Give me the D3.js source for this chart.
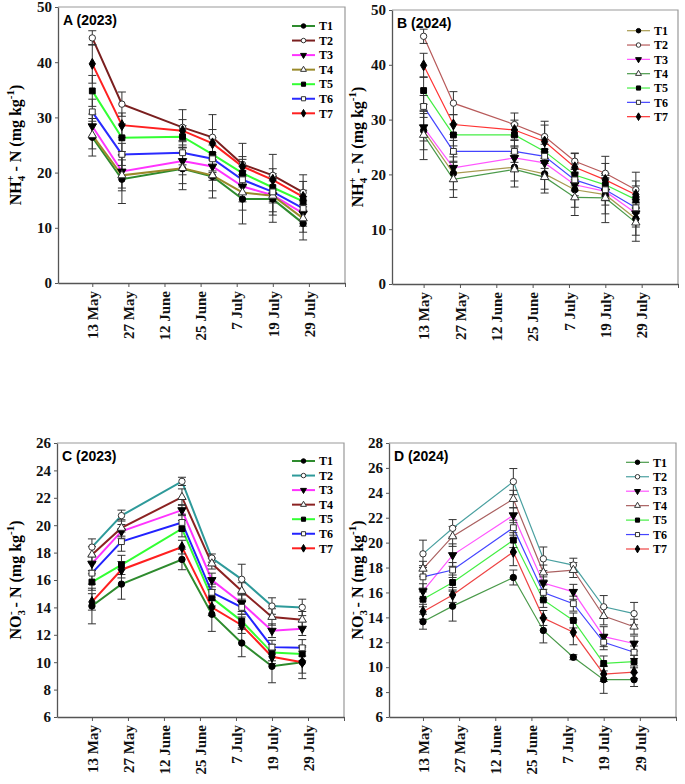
<!DOCTYPE html>
<html>
<head>
<meta charset="utf-8">
<script src="https://cdn.jsdelivr.net/npm/d3@7"></script>
<style>
  body { margin: 0; background: #fff; }
  svg { display: block; }
</style>
</head>
<body>
<div id="chart"></div>
<script>
// sampling dates (tick labels) and where the samples sit on the axis
const dateLabels = ['13 May', '27 May', '12 June', '25 June', '7 July', '19 July', '29 July'];
const sampleX = [0, 0.82, 2.5, 3.33, 4.16, 5.0, 5.84];
const treatments = ['T1', 'T2', 'T3', 'T4', 'T5', 'T6', 'T7'];

// NH4+-N 2023, one row per treatment
const nh4_2023 = [
  [26.4, 18.8, 20.7, 19.3, 15.2, 15.2, 10.8],
  [44.4, 32.4, 28.2, 26.4, 21.5, 19.5, 16.4],
  [28.4, 20.2, 22.1, 21.1, 17.5, 15.9, 12.6],
  [26.8, 19.5, 20.8, 19.5, 16.4, 15.8, 11.7],
  [34.8, 26.3, 26.5, 23.3, 19.9, 17.3, 14.8],
  [31.0, 23.3, 23.6, 22.5, 18.7, 16.5, 13.5],
  [39.7, 28.6, 27.6, 25.3, 21.1, 18.7, 15.6],
];
const nh4_2023_err = [
  [3.4, 4.4, 3.8, 3.9, 4.5, 4.2, 3.0],
  [1.3, 2.2, 3.2, 4.1, 3.8, 3.8, 3.2],
  [2.2, 3.0, 2.5, 2.5, 2.8, 3.0, 2.3],
  [2.5, 2.8, 2.8, 2.8, 3.2, 3.5, 2.5],
  [2.8, 2.5, 2.0, 3.0, 2.5, 2.5, 2.0],
  [2.3, 2.0, 2.2, 2.5, 2.5, 2.0, 2.2],
  [3.5, 2.2, 2.0, 2.5, 1.8, 2.0, 2.8],
];

// NH4+-N 2024
const nh4_2024 = [
  [28.0, 20.2, 21.3, 20.1, 17.2, 16.3, 11.9],
  [45.2, 33.0, 29.1, 26.9, 22.4, 20.2, 17.2],
  [28.6, 21.2, 23.0, 22.1, 18.1, 16.9, 12.9],
  [27.2, 19.1, 20.9, 19.5, 15.8, 15.7, 11.2],
  [35.3, 27.2, 27.2, 24.2, 19.9, 18.1, 15.4],
  [32.4, 24.2, 24.2, 23.3, 19.0, 17.2, 13.9],
  [39.9, 29.1, 28.1, 26.0, 21.3, 19.0, 16.3],
];
const nh4_2024_err = [
  [3.5, 3.0, 2.5, 2.8, 3.2, 3.5, 3.0],
  [1.3, 2.1, 2.1, 2.8, 1.5, 3.1, 3.2],
  [2.5, 2.5, 2.0, 2.5, 2.0, 2.5, 2.5],
  [4.5, 3.3, 3.2, 2.9, 3.3, 4.5, 3.4],
  [2.5, 2.0, 2.0, 2.2, 2.0, 2.0, 2.5],
  [2.0, 2.0, 2.0, 2.2, 2.0, 2.0, 2.0],
  [2.2, 1.8, 1.8, 3.0, 2.5, 3.0, 2.5],
];

// NO3--N 2023
const no3_2023 = [
  [14.1, 15.7, 17.5, 13.5, 11.4, 9.7, 10.0],
  [18.4, 20.7, 23.2, 17.6, 16.05, 14.1, 14.0],
  [17.2, 19.55, 21.1, 16.0, 14.3, 12.3, 12.45],
  [17.85, 19.8, 22.05, 17.2, 15.2, 13.3, 13.1],
  [15.85, 17.1, 19.75, 14.7, 13.0, 10.7, 10.6],
  [16.5, 18.8, 20.2, 15.1, 14.0, 11.1, 11.05],
  [14.4, 16.75, 18.4, 14.0, 12.7, 10.4, 10.0],
];
const no3_2023_err = [
  [1.3, 1.1, 0.75, 1.25, 1.0, 1.2, 1.2],
  [0.6, 0.4, 0.3, 0.3, 1.1, 0.6, 0.6],
  [0.5, 0.5, 0.4, 0.5, 0.6, 0.5, 0.5],
  [0.6, 0.6, 0.6, 0.4, 0.6, 0.6, 0.6],
  [0.6, 0.7, 0.6, 0.6, 0.5, 0.6, 0.5],
  [0.8, 0.7, 0.6, 0.6, 0.5, 0.5, 0.6],
  [0.6, 0.6, 0.5, 0.6, 0.6, 0.5, 0.8],
];

// NO3--N 2024
const no3_2024 = [
  [13.65, 14.9, 17.2, 12.95, 10.8, 9.0, 9.0],
  [19.1, 21.15, 24.9, 18.7, 18.2, 14.85, 14.3],
  [16.1, 19.0, 22.2, 16.75, 16.05, 12.45, 11.9],
  [17.9, 20.5, 23.5, 17.6, 17.8, 14.1, 13.25],
  [15.45, 16.8, 20.2, 15.4, 13.75, 10.3, 10.45],
  [17.25, 17.8, 21.2, 16.0, 15.1, 12.0, 11.2],
  [14.45, 15.8, 19.25, 13.95, 12.8, 9.45, 9.6],
];
const no3_2024_err = [
  [0.6, 1.2, 0.6, 1.0, 0.2, 1.1, 0.55],
  [1.1, 0.7, 1.05, 0.95, 0.55, 0.9, 0.9],
  [0.6, 0.9, 0.6, 0.5, 0.6, 0.8, 0.6],
  [0.6, 0.8, 0.7, 0.6, 0.6, 0.7, 0.6],
  [0.6, 0.6, 0.6, 0.6, 0.6, 0.6, 0.5],
  [0.9, 0.6, 0.6, 0.6, 0.6, 0.6, 0.5],
  [0.6, 0.6, 1.1, 0.6, 1.0, 0.6, 0.5],
];

const nh4Ticks = [0, 10, 20, 30, 40, 50];
const no3Ticks2023 = [6, 8, 10, 12, 14, 16, 18, 20, 22, 24, 26];
const no3Ticks2024 = [6, 8, 10, 12, 14, 16, 18, 20, 22, 24, 26, 28];

// marker per treatment: [d3 symbol, filled?, rotation, size]
const markers = [
  [d3.symbolCircle, true, 0, 32],
  [d3.symbolCircle, false, 0, 32],
  [d3.symbolTriangle, true, 180, 30],
  [d3.symbolTriangle, false, 0, 30],
  [d3.symbolSquare, true, 0, 34],
  [d3.symbolSquare, false, 0, 34],
  [d3.symbolDiamond, true, 0, 34],
];

const serif = '"Liberation Serif", "Times New Roman", serif';
const sans = '"Liberation Sans", Arial, sans-serif';

const panels = [
  {
    title: 'A (2023)', kind: 'nh4', values: nh4_2023, errors: nh4_2023_err,
    left: 58, right: 345, top: 7, bottom: 283, xMin: -0.95, yDomain: [0, 50], yTicks: nh4Ticks,
    colors: ['#2e8b2e', '#7a1f1f', '#ff33ff', '#9a8a2a', '#33ff33', '#2a2aff', '#ff2020'],
    lw: 2, labelX: 15, legX: 292, legY: 26, legStep: 14.55,
  },
  {
    title: 'B (2024)', kind: 'nh4', values: nh4_2024, errors: nh4_2024_err,
    left: 392, right: 678, top: 10, bottom: 284, xMin: -0.87, yDomain: [0, 50], yTicks: nh4Ticks,
    colors: ['#a89a50', '#b85a5a', '#ff55ff', '#4a9a4a', '#44ee44', '#4444ff', '#ff3333'],
    lw: 1.2, labelX: 357, legX: 627, legY: 30.7, legStep: 14.33,
  },
  {
    title: 'C (2023)', kind: 'no3', values: no3_2023, errors: no3_2023_err,
    left: 57, right: 344, top: 443, bottom: 717, xMin: -0.97, yDomain: [6, 26], yTicks: no3Ticks2023,
    colors: ['#2e8b2e', '#2e9a9a', '#ff33ff', '#8b2222', '#33ff33', '#2222ff', '#ff2020'],
    lw: 2, labelX: 15, legX: 292, legY: 461, legStep: 14.55,
  },
  {
    title: 'D (2024)', kind: 'no3', values: no3_2024, errors: no3_2024_err,
    left: 389, right: 676, top: 443, bottom: 717, xMin: -0.94, yDomain: [6, 28], yTicks: no3Ticks2024,
    colors: ['#4a9a4a', '#4aa0a0', '#ff55ff', '#aa6060', '#44ee44', '#4444ff', '#ee4444'],
    lw: 1.2, labelX: 357, legX: 626, legY: 462.3, legStep: 14.45,
  },
];

const svg = d3.select('#chart').append('svg')
  .attr('width', 685)
  .attr('height', 784);

const drawMarker = (sel, k, cx, cy, scale = 1) => {
  const [type, filled, rot, size] = markers[k];
  sel.append('path')
    .attr('d', d3.symbol().type(type).size(size * scale)())
    .attr('transform', `translate(${cx},${cy}) rotate(${rot})`)
    .attr('fill', filled ? '#000' : '#fff')
    .attr('stroke', filled ? '#000' : '#333')
    .attr('stroke-width', 1);
};

const yLabel = (g, p) => {
  const cy = (p.top + p.bottom) / 2;
  const t = g.append('text')
    .attr('transform', `translate(${p.labelX},${cy}) rotate(-90)`)
    .attr('text-anchor', 'middle')
    .attr('dy', '0.35em')
    .style('font-family', serif)
    .style('font-weight', 'bold')
    .style('font-size', '16px');
  if (p.kind === 'nh4') {
    t.append('tspan').text('NH');
    t.append('tspan').attr('dy', 4).style('font-size', '11px').text('4');
    t.append('tspan').attr('dx', -6).attr('dy', -11).style('font-size', '11px').text('+');
  } else {
    t.append('tspan').text('NO');
    t.append('tspan').attr('dy', 4).style('font-size', '11px').text('3');
    t.append('tspan').attr('dx', -5).attr('dy', -11).style('font-size', '11px').text('-');
  }
  t.append('tspan').attr('dy', 7).text(' - N (mg kg');
  t.append('tspan').attr('dy', -7).style('font-size', '11px').text('-1');
  t.append('tspan').attr('dy', 7).text(')');
};

const drawPanel = (p) => {
  const g = svg.append('g');
  const x = d3.scaleLinear().domain([p.xMin, 7]).range([p.left, p.right]);
  const y = d3.scaleLinear().domain(p.yDomain).range([p.bottom, p.top]);

  // top / right frame
  g.append('path')
    .attr('d', `M${p.left},${p.top}H${p.right}V${p.bottom}`)
    .attr('fill', 'none')
    .attr('stroke', '#999')
    .attr('stroke-width', 1.2);

  // y axis
  const ya = g.append('g')
    .attr('transform', `translate(${p.left},0)`)
    .call(d3.axisLeft(y).tickValues(p.yTicks).tickSize(3).tickSizeOuter(0).tickPadding(3));
  ya.select('.domain').attr('stroke', '#555').attr('stroke-width', 1.3);
  ya.selectAll('.tick line').attr('stroke', '#555');
  ya.selectAll('text')
    .style('font-family', serif)
    .style('font-weight', 'bold')
    .style('font-size', '15px')
    .attr('fill', '#111');

  // x axis
  const xa = g.append('g')
    .attr('transform', `translate(0,${p.bottom})`)
    .call(d3.axisBottom(x).tickValues(d3.range(0, 8)).tickSize(4).tickSizeOuter(0)
      .tickFormat((i) => dateLabels[i] || ''));
  xa.select('.domain').attr('stroke', '#555').attr('stroke-width', 1.3);
  xa.selectAll('.tick line').attr('stroke', '#555');
  xa.selectAll('text')
    .attr('transform', 'rotate(-90)')
    .attr('text-anchor', 'end')
    .attr('x', -8)
    .attr('y', 0)
    .attr('dy', '0.35em')
    .style('font-family', serif)
    .style('font-weight', 'bold')
    .style('font-size', '15px')
    .attr('fill', '#111');

  yLabel(g, p);

  g.append('text')
    .attr('x', p.left + 5)
    .attr('y', p.top + 18)
    .style('font-family', sans)
    .style('font-weight', 'bold')
    .style('font-size', '14px')
    .text(p.title);

  const line = d3.line().x((d, i) => x(sampleX[i])).y((d) => y(d));

  // lines
  p.values.forEach((vals, k) => {
    g.append('path')
      .datum(vals)
      .attr('d', line)
      .attr('fill', 'none')
      .attr('stroke', p.colors[k])
      .attr('stroke-width', p.lw);
  });

  // error bars
  p.values.forEach((vals, k) => {
    const eb = g.append('g').attr('stroke', '#333').attr('stroke-width', 1);
    vals.forEach((v, i) => {
      const e = p.errors[k][i];
      const cx = x(sampleX[i]);
      eb.append('line').attr('x1', cx).attr('x2', cx).attr('y1', y(v - e)).attr('y2', y(v + e));
      [v - e, v + e].forEach((ev) => {
        eb.append('line').attr('x1', cx - 4).attr('x2', cx + 4).attr('y1', y(ev)).attr('y2', y(ev));
      });
    });
  });

  // markers
  p.values.forEach((vals, k) => {
    const mg = g.append('g');
    vals.forEach((v, i) => drawMarker(mg, k, x(sampleX[i]), y(v)));
  });

  // legend
  treatments.forEach((name, k) => {
    const ly = p.legY + k * p.legStep;
    const lg = g.append('g');
    lg.append('line')
      .attr('x1', p.legX).attr('x2', p.legX + 23)
      .attr('y1', ly).attr('y2', ly)
      .attr('stroke', p.colors[k])
      .attr('stroke-width', p.lw);
    drawMarker(lg, k, p.legX + 11.5, ly, 0.5);
    lg.append('text')
      .attr('x', p.legX + 27)
      .attr('y', ly)
      .attr('dy', '0.35em')
      .style('font-family', serif)
      .style('font-weight', 'bold')
      .style('font-size', '12px')
      .text(name);
  });
};

panels.forEach(drawPanel);
</script>
</body>
</html>
